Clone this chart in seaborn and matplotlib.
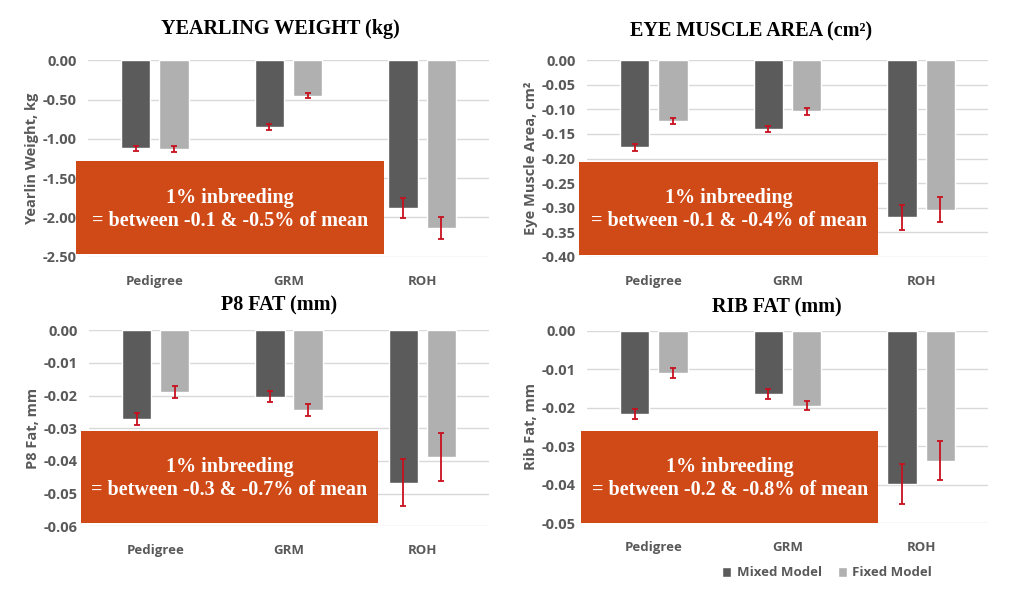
import pandas as pd
import numpy as np
import matplotlib
matplotlib.use("Agg")
import matplotlib.pyplot as plt
import seaborn as sns
from matplotlib.patches import Rectangle

# 데이터
categories = ["Pedigree", "GRM", "ROH"]
models = ["Mixed Model", "Fixed Model"]

yw_mixed = [-1.12, -0.85, -1.88]
yw_fixed = [-1.13, -0.45, -2.13]
yw_mixed_err = [0.035, 0.035, 0.13]
yw_fixed_err = [0.035, 0.035, 0.14]

ema_mixed = [-0.177, -0.140, -0.320]
ema_fixed = [-0.123, -0.104, -0.304]
ema_mixed_err = [0.007, 0.007, 0.026]
ema_fixed_err = [0.0065, 0.007, 0.026]

p8_mixed = [-0.0272, -0.0204, -0.0467]
p8_fixed = [-0.0189, -0.0244, -0.0387]
p8_mixed_err = [0.0018, 0.0017, 0.0072]
p8_fixed_err = [0.0018, 0.0017, 0.0073]

rib_mixed = [-0.0216, -0.0164, -0.0398]
rib_fixed = [-0.0110, -0.0195, -0.0337]
rib_mixed_err = [0.0013, 0.0013, 0.0052]
rib_fixed_err = [0.0013, 0.0012, 0.0051]

W, H = 1024, 590
DARK = "#5B5B5B"
LIGHT = "#B0B0B0"
RED = "#C8101E"
BOX = "#D04A18"
GREY = "#595959"

sns.set_style("white")
plt.rcParams["font.family"] = ["Open Sans", "DejaVu Sans"]

fig = plt.figure(figsize=(W / 100, H / 100), dpi=100)


def px_rect(l, t, r, b):
    return [l / W, 1 - b / H, (r - l) / W, (b - t) / H]


def draw_panel(rect, mixed, fixed, mixed_err, fixed_err, ymin, step, ylabel):
    ax = fig.add_axes(px_rect(*rect))
    df = pd.DataFrame({
        "cat": categories * 2,
        "model": [models[0]] * 3 + [models[1]] * 3,
        "val": mixed + fixed,
    })
    sns.barplot(data=df, x="cat", y="val", hue="model", order=categories,
                hue_order=models, palette=[DARK, LIGHT], width=0.57, gap=0.23,
                errorbar=None, ax=ax, zorder=2)
    for cont, errs in zip(ax.containers, [mixed_err, fixed_err]):
        xs = [p.get_x() + p.get_width() / 2 for p in cont.patches]
        ys = [p.get_height() for p in cont.patches]
        ax.errorbar(xs, ys, yerr=errs, fmt="none", ecolor=RED, elinewidth=1.3,
                    capsize=2.5, capthick=1.3, zorder=3)
    ax.legend_.remove()
    ax.set_xlim(-0.5, 2.5)
    ax.set_ylim(ymin, 0)
    ticks = np.linspace(0, ymin, int(round(-ymin / step)) + 1)
    ax.set_yticks(ticks)
    ax.set_yticklabels([f"{abs(v):.2f}" if abs(v) < 1e-12 else f"{v:.2f}" for v in ticks])
    ax.grid(axis="y", color="#D9D9D9", lw=1, zorder=0)
    ax.set_axisbelow(True)
    for s in ax.spines.values():
        s.set_visible(False)
    ax.tick_params(axis="y", length=0, labelsize=10.5, labelcolor=GREY, pad=8)
    ax.tick_params(axis="x", length=0, labelsize=9.5, labelcolor=GREY, pad=13)
    for lab in ax.get_xticklabels() + ax.get_yticklabels():
        lab.set_fontweight("bold")
    ax.set_xlabel("")
    ax.set_ylabel(ylabel, fontsize=10.5, color=GREY, fontweight="bold", labelpad=3)
    return ax


ax1 = draw_panel((88, 60.3, 489, 256.7), yw_mixed, yw_fixed, yw_mixed_err, yw_fixed_err,
                 -2.5, 0.5, "Yearlin Weight, kg")
ax2 = draw_panel((587, 60.3, 988, 256.7), ema_mixed, ema_fixed, ema_mixed_err, ema_fixed_err,
                 -0.4, 0.05, "Eye Muscle Area, cm²")
ax3 = draw_panel((89, 330.3, 489, 526.3), p8_mixed, p8_fixed, p8_mixed_err, p8_fixed_err,
                 -0.06, 0.01, "P8 Fat, mm")
ax4 = draw_panel((587, 330.7, 988, 523.3), rib_mixed, rib_fixed, rib_mixed_err, rib_fixed_err,
                 -0.05, 0.01, "Rib Fat, mm")

# 제목
serif = ["Liberation Serif", "DejaVu Serif"]
titles = [("YEARLING WEIGHT (kg)", 280, 29), ("EYE MUSCLE AREA (cm²)", 751, 31.7),
          ("P8 FAT (mm)", 279, 305), ("RIB FAT (mm)", 777, 307.7)]
for t, x, y in titles:
    fig.text(x / W, 1 - y / H, t, ha="center", va="center", fontsize=14.5,
             fontweight="bold", family=serif, color="black")

# 주황 박스
boxes = [((75.7, 161.3, 383.7, 254), "1% inbreeding\n= between -0.1 & -0.5% of mean"),
         ((579.3, 162.3, 878, 254.7), "1% inbreeding\n= between -0.1 & -0.4% of mean"),
         ((81, 431.3, 378, 523.3), "1% inbreeding\n= between -0.3 & -0.7% of mean"),
         ((581.3, 431, 878, 523.3), "1% inbreeding\n= between -0.2 & -0.8% of mean")]
for (l, t, r, b), txt in boxes:
    fig.add_artist(Rectangle((l / W, 1 - b / H), (r - l) / W, (b - t) / H,
                             transform=fig.transFigure, facecolor=BOX,
                             edgecolor="none", zorder=10))
    fig.text((l + r) / 2 / W, 1 - ((t + b) / 2 + 1.5) / H, txt, ha="center", va="center",
             fontsize=14.5, fontweight="bold", family=serif, color="white",
             linespacing=1.2, zorder=11)

# 범례
handles, labels = ax4.get_legend_handles_labels()
if not handles:
    handles = [Rectangle((0, 0), 1, 1, color=DARK), Rectangle((0, 0), 1, 1, color=LIGHT)]
    labels = models
fig.legend(handles, labels, loc="center", bbox_to_anchor=(827 / W, 1 - 573 / H),
           ncol=2, frameon=False, handlelength=0.7, handleheight=0.7,
           handletextpad=0.4, columnspacing=1.2,
           prop={"weight": "bold", "size": 9.5})
for t in fig.legends[0].get_texts():
    t.set_color(GREY)

fig.savefig("out.png", dpi=100)
